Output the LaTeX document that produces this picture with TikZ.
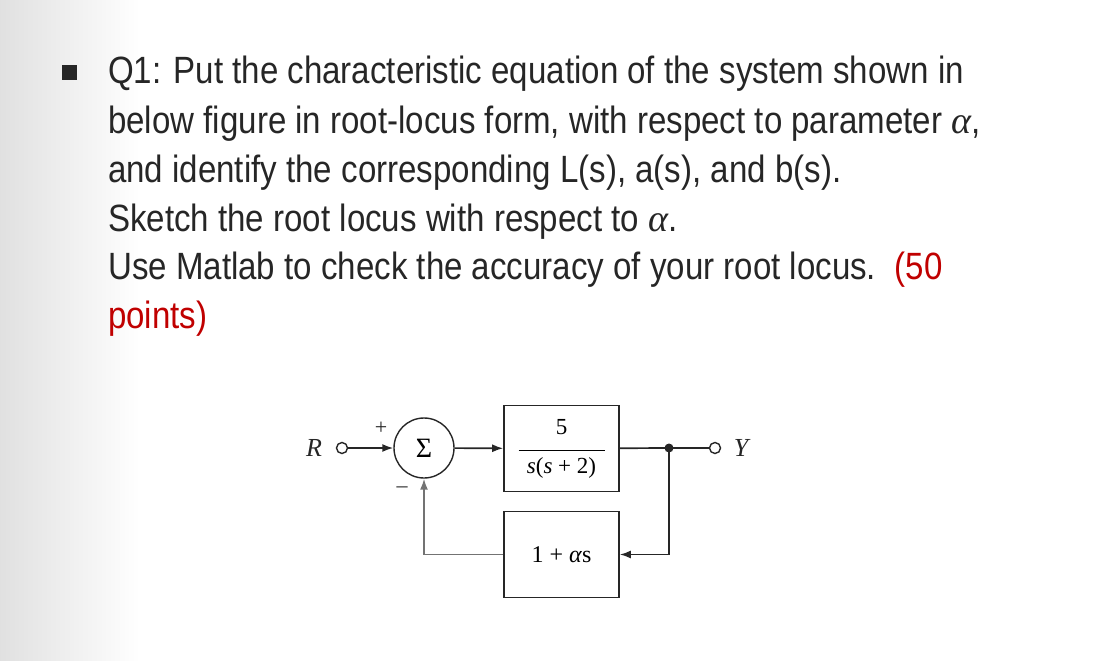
\documentclass[tikz,border=0pt]{standalone}
\usepackage{fontspec}
\setmainfont{Liberation Sans}[FakeStretch=0.87]
\newfontfamily\diagfont{Liberation Serif}
\usetikzlibrary{arrows.meta}
\definecolor{txt}{HTML}{262626}
\definecolor{redtxt}{HTML}{C00000}
\begin{document}
\begin{tikzpicture}[x=1pt,y=-1pt,
  line/.style={txt,line width=1.7pt},
  arr/.style={line,-{Latex[length=11pt,width=8pt]}},
  blk/.style={draw=txt,line width=1.6pt,minimum width=115pt,minimum height=86pt,inner sep=0pt},
  qline/.style={anchor=base west,inner sep=0pt,font=\fontsize{38}{44}\selectfont,text=txt},
  dlab/.style={inner sep=0pt,font=\diagfont\fontsize{26}{30}\selectfont,text=txt}]
\useasboundingbox (0,0) rectangle (1095,661);
\shade[left color=black!12,right color=white] (0,0) rectangle (140,661);
\fill[txt] (62,65) rectangle (77,80) coordinate (bul);
\node[qline] (l1) at (108,84) {Q1: Put the characteristic equation of the system shown in};
\node[qline] (l2) at (108,133) {below figure in root-locus form, with respect to parameter {\diagfont\itshape α},};
\node[qline] (l3) at (108,182) {and identify the corresponding L(s), a(s), and b(s).};
\node[qline] (l4) at (108,231) {Sketch the root locus with respect to {\diagfont\itshape α}.};
\node[qline] (l5) at (108,279) {Use Matlab to check the accuracy of your root locus.\ \ \textcolor{redtxt}{(50}};
\node[qline,text=redtxt] (l6) at (108,328) {points)};
% diagram
\node[dlab] (R) at (314,448) {\itshape R};
\node[draw=txt,circle,line width=1.4pt,minimum size=11pt,inner sep=0pt,fill=white] (rin) at (342,448) {};
\node[draw=txt,circle,line width=1.4pt,minimum size=60pt,inner sep=0pt] (sum) at (424,448) {\diagfont\fontsize{28}{30}\selectfont Σ};
\node[blk] (g) at (561.5,448.5) {\diagfont\fontsize{23}{26}\selectfont
  \begin{tabular}{@{}c@{}}5\\[-9pt]\rule{86pt}{1.1pt}\\[-4pt]\textit{s}(\textit{s} + 2)\end{tabular}};
\node[blk] (h) at (561.5,554.5) {\diagfont\fontsize{24}{26}\selectfont 1 + \textit{α}s};
\fill[txt] (669,448) circle (4.5pt) coordinate (dot);
\node[draw=txt,circle,line width=1.4pt,minimum size=11pt,inner sep=0pt,fill=white] (yout) at (715,448) {};
\node[dlab] (Y) at (741,448) {\itshape Y};
\node[dlab,font=\diagfont\fontsize{22}{24}\selectfont] (plus) at (381,428) {+};
\node[dlab,font=\diagfont\fontsize{22}{24}\selectfont] (minus) at (402,490) {–};
\draw[arr] (rin) -- (sum);
\draw[arr] (sum) -- (g);
\draw[line] (g) -- (dot) -- (yout);
\draw[arr] (dot) |- (h);
\draw[arr,draw=black!55] (h.west) -| (sum.south);
\end{tikzpicture}
\end{document}
